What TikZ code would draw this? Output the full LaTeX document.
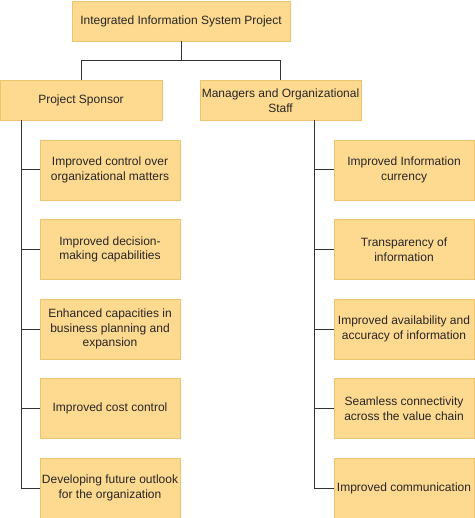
\documentclass[tikz,border=0pt]{standalone}
\usepackage{fontspec}
\setmainfont{Liberation Sans}
\usepackage{xcolor}
\usetikzlibrary{positioning}
\definecolor{boxfill}{RGB}{254, 217, 144}
\definecolor{boxline}{RGB}{236, 196, 110}
\definecolor{wire}{RGB}{51, 51, 51}

\begin{document}
\begin{tikzpicture}[
    x=1pt, y=1pt,
    orgbox/.style={
        draw=boxline,
        fill=boxfill,
        line width=0.8pt,
        inner sep=0pt,
        outer sep=0pt,
        align=center,
        text=black!85,
        font=\fontsize{12}{14.5}\selectfont,
        minimum width=#1
    },
    orgbox/.default=140pt,
    headbox/.style={orgbox=#1, minimum height=40pt},
    leafbox/.style={orgbox=140pt, minimum height=60pt},
    wireline/.style={draw=wire, line width=1pt}
]
\useasboundingbox (0,0) rectangle (474,-518);

% === Root ===
\node[headbox=218pt] (root) at (181,-21) {Integrated Information System Project};

% === Second level ===
\node[headbox=162pt] (sponsor) at (81,-100.5) {Project Sponsor};
\node[headbox=161pt] (staff) at (280.5,-100.5) {Managers and Organizational\\Staff};

% === Sponsor benefits ===
\node[leafbox] (sp1) at (110,-170) {Improved control over\\organizational matters};
\node[leafbox, below=19.5pt of sp1] (sp2) {Improved decision-\\making capabilities};
\node[leafbox, below=19.5pt of sp2] (sp3) {Enhanced capacities in\\business planning and\\expansion};
\node[leafbox, below=19.5pt of sp3] (sp4) {Improved cost control};
\node[leafbox, below=19.5pt of sp4] (sp5) {Developing future outlook\\for the organization};

% === Staff benefits ===
\node[leafbox] (st1) at (404,-170) {Improved Information\\currency};
\node[leafbox, below=19.5pt of st1] (st2) {Transparency of\\information};
\node[leafbox, below=19.5pt of st2] (st3) {Improved availability and\\accuracy of information};
\node[leafbox, below=19.5pt of st3] (st4) {Seamless connectivity\\across the value chain};
\node[leafbox, below=19.5pt of st4] (st5) {Improved communication};

% === Connectors ===
\draw[wireline] (root.south) -- ++(0,-20) coordinate (fork) -| (sponsor.north);
\draw[wireline] (fork) -| (staff.north);
\coordinate (sptop) at ([xshift=-60pt]sponsor.south);
\coordinate (sttop) at ([xshift=33.5pt]staff.south);
\draw[wireline] (sptop) |- (sp5.west);
\draw[wireline] (sttop) |- (st5.west);
\draw[wireline] (sptop |- sp1.west) -- (sp1.west);
\draw[wireline] (sptop |- sp2.west) -- (sp2.west);
\draw[wireline] (sptop |- sp3.west) -- (sp3.west);
\draw[wireline] (sptop |- sp4.west) -- (sp4.west);
\draw[wireline] (sttop |- st1.west) -- (st1.west);
\draw[wireline] (sttop |- st2.west) -- (st2.west);
\draw[wireline] (sttop |- st3.west) -- (st3.west);
\draw[wireline] (sttop |- st4.west) -- (st4.west);

\end{tikzpicture}
\end{document}
